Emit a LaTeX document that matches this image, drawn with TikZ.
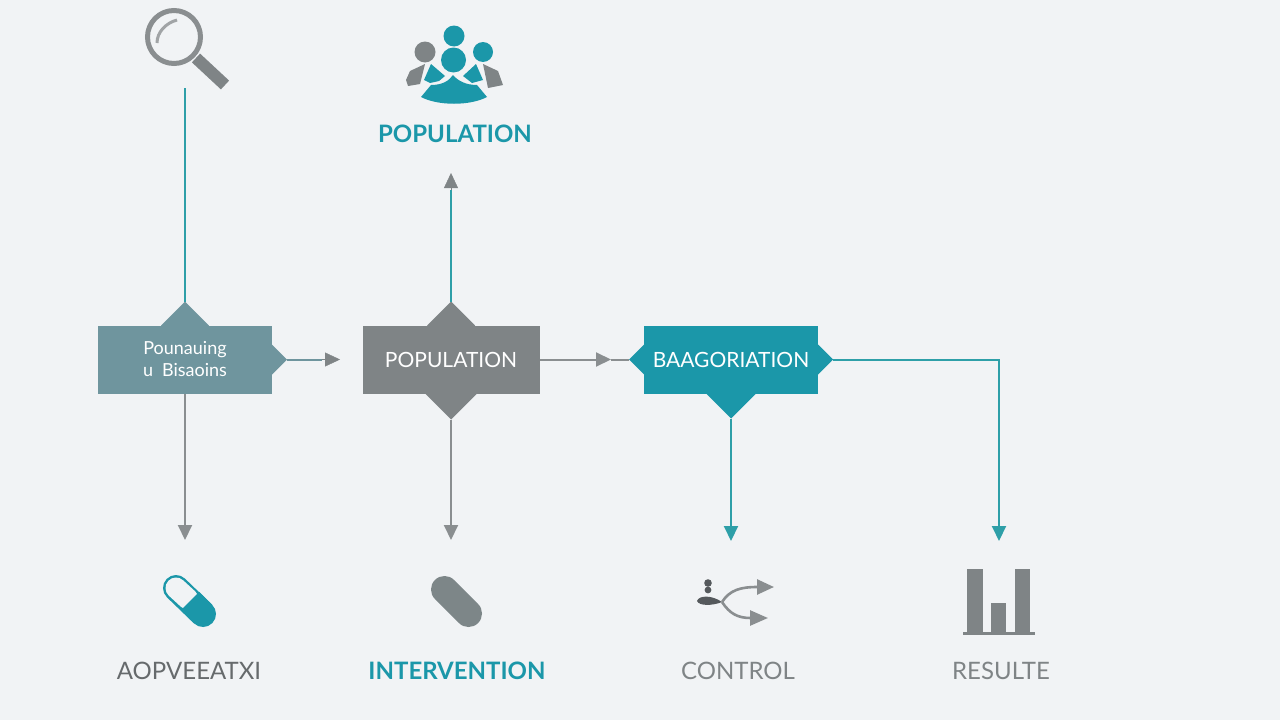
\documentclass[tikz,border=0pt]{standalone}
\usepackage{fontspec}
\setmainfont{Lato}
\definecolor{pageBody}{HTML}{F1F3F5}
\definecolor{tealBody}{HTML}{1B97A9}
\definecolor{tealLine}{HTML}{2E9FA8}
\definecolor{slateBody}{HTML}{6F959E}
\definecolor{greyBody}{HTML}{7F8486}
\definecolor{greyLine}{HTML}{8A8E90}
\definecolor{greyDark}{HTML}{55595C}
\usetikzlibrary{shapes.geometric}
\usetikzlibrary{arrows.meta}
\usetikzlibrary{backgrounds}
\tikzstyle{box} = [rectangle, minimum height=68pt, inner sep=0pt, outer sep=0pt,
        align=center, text=white]
\tikzstyle{bump} = [diamond, inner sep=0pt, outer sep=0pt]
\tikzstyle{caption} = [inner sep=0pt, font={\fontsize{24}{24}\selectfont}]
\tikzstyle{link} = [line width=2pt]
\tikzstyle{head} = [-{Triangle[length=15pt,width=14pt]}]

\begin{document}
\begin{tikzpicture}[x=1pt, y=-1pt]
    \useasboundingbox (0,0) rectangle (1280,720);

    \node [box, minimum width=174pt, fill=slateBody, font={\fontsize{18}{23}\selectfont}] (boxOne) at (185,359.5)
        {Pounauing\\[-1pt]u\enspace Bisaoins};
    \node [box, minimum width=177pt, fill=greyBody, font={\fontsize{21}{21}\selectfont}] (boxTwo) at (451,359.5) {\raisebox{-1.5pt}{POPULATION}};
    \node [box, minimum width=174pt, fill=tealBody, font={\fontsize{21}{21}\selectfont}] (boxThree) at (731,359.5) {\raisebox{-1.5pt}{BAAGORIATION}};

    \begin{scope}[on background layer]
        \fill [pageBody] (0,0) rectangle (1280,720);
        \node [bump, minimum size=48pt, fill=slateBody] (oneTop) at (boxOne.north) {};
        \node [bump, minimum size=30pt, fill=slateBody] (oneRight) at (boxOne.east) {};
        \node [bump, minimum size=48pt, fill=greyBody] (twoTop) at (boxTwo.north) {};
        \node [bump, minimum size=52pt, fill=greyBody] (twoBottom) at (boxTwo.south) {};
        \node [bump, minimum size=30pt, fill=tealBody] (threeLeft) at (boxThree.west) {};
        \node [bump, minimum size=30pt, fill=tealBody] (threeRight) at (boxThree.east) {};
        \node [bump, minimum size=50pt, fill=tealBody] (threeBottom) at (boxThree.south) {};
    \end{scope}

    \coordinate (lensEnd) at (185,88);
    \coordinate (crowdEnd) at (451,173);
    \coordinate (twoIn) at (340,359.5);
    \coordinate (threeTip) at (611,359.5);
    \coordinate (pillOneEnd) at (185,540);
    \coordinate (pillTwoEnd) at (451,540);
    \coordinate (splitEnd) at (731,541);
    \coordinate (barsBend) at (999,359.5);
    \coordinate (barsEnd) at (999,541);

    \draw [link, tealLine] (lensEnd) -- (oneTop.north);
    \draw [link, tealLine] (twoTop.north) -- (451,190);
    \draw [greyBody, fill=greyBody, head] (451,190) -- (crowdEnd);
    \draw [link, slateBody] (oneRight.east) -- (322,359.5);
    \draw [greyBody, head] (322,359.5) -- (twoIn);
    \draw [link, greyLine, head] (boxTwo.east) -- (threeTip);
    \draw [link, greyLine] (threeTip) -- (threeLeft.west);
    \draw [link, greyLine, head] (boxOne.south) -- (pillOneEnd);
    \draw [link, greyLine, head] (twoBottom.south) -- (pillTwoEnd);
    \draw [link, tealLine, head] (threeBottom.south) -- (splitEnd);
    \draw [link, tealLine, head] (threeRight.east) -- (barsBend) -- (barsEnd);

    \draw [greyLine, line width=5pt] (174,37) circle (26.5);
    \draw [greyLine!80, line width=3pt] (157,43) .. controls (157,32) and (166,23) .. (177,20);
    \draw [greyBody, line width=12pt] (196,58) -- (225,85);

    \fill [tealBody] (454,36) circle (10.5);
    \fill [tealBody] (453.5,60) circle (12.5);
    \fill [greyBody] (425,52) circle (10.5);
    \fill [tealBody] (483,52) circle (10);
    \fill [tealBody] (421,97) -- (431,85) .. controls (442,85) and (449,81) .. (453,75)
        .. controls (458,81) and (466,85) .. (477,85) -- (487,97) .. controls (470,106) and (438,106) .. (421,97) -- cycle;
    \fill [tealBody] (424,80) -- (431,64) -- (445,76) -- (439,81) -- (430,83) -- cycle;
    \fill [tealBody] (463,76) -- (476,64) -- (483,80) -- (472,83) -- cycle;
    \fill [greyBody] (406,80) -- (410,71) -- (425,64) -- (420,84) -- (408,86) -- cycle;
    \fill [greyBody] (483,64) -- (498,71) -- (503,85) -- (488,88) -- cycle;
    \node [caption, text=tealBody, font={\fontsize{24}{24}\selectfont\bfseries}] (populationLabel) at (455,134) {POPULATION};

    \draw [tealBody, line width=26pt, line cap=round] (176,588) -- (203,614);
    \draw [pageBody, line width=21pt, line cap=round] (176,588) -- (188,599);
    \draw [tealBody, line width=26pt] (190,601) -- (203,614);
    \draw [greyBody!90!slateBody, line width=27pt, line cap=round] (444.5,589.5) -- (468.5,613.5);

    \fill [greyDark] (708,583) circle (3.8);
    \fill [greyDark] (708,590) circle (3.4);
    \fill [greyDark] (697,601) .. controls (699,595) and (712,595) .. (722,602) .. controls (712,606) and (699,606) .. (697,601) -- cycle;
    \draw [greyLine, line width=2.6pt, -{Triangle[length=17pt,width=15pt]}] (722,602) .. controls (730,590) and (740,587) .. (774,587);
    \draw [greyLine, line width=2.6pt, -{Triangle[length=18pt,width=15pt]}] (722,602) .. controls (730,614) and (738,618) .. (768,618);

    \fill [greyBody] (967.3,569) rectangle (982.7,632);
    \fill [greyBody] (991,602.7) rectangle (1006,632);
    \fill [greyBody] (1015,569) rectangle (1030,632);
    \fill [greyBody] (963,632) rectangle (1034.7,634.5);

    \node [caption, text=greyDark!90] (aopLabel) at (189,671) {AOPVEEATXI};
    \node [caption, text=tealBody, font={\fontsize{24}{24}\selectfont\bfseries}] (interventionLabel) at (457,671) {INTERVENTION};
    \node [caption, text=greyBody] (controlLabel) at (738,671) {CONTROL};
    \node [caption, text=greyBody] (resultLabel) at (1001,671) {RESULTE};
\end{tikzpicture}
\end{document}
